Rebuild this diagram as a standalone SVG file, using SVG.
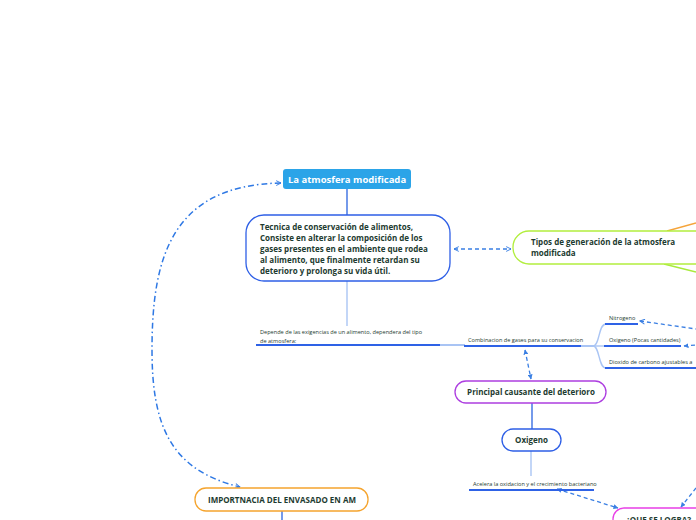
<svg xmlns="http://www.w3.org/2000/svg" width="696" height="520" viewBox="0 0 696 520">
<style>
.t{font-family:"Open Sans","Noto Sans","Liberation Sans",sans-serif;fill:#1d3b30}
.b{font-weight:bold;font-size:8px}
.s{font-size:5.6px}
.dash{fill:none;stroke:#3a7fe3;stroke-width:1.3;stroke-dasharray:4 3}
.dd{fill:none;stroke:#2e78e4;stroke-width:1.5;stroke-dasharray:6 3 1.5 3}
.ln{fill:none;stroke:#3a6fe2;stroke-width:1.4}
.lt{fill:none;stroke:#aac5f4;stroke-width:1.4}
.ul{fill:none;stroke:#2e62e6;stroke-width:2}
.ull{fill:none;stroke:#a9c4f4;stroke-width:2}
</style>
<defs>
<marker id="ah" viewBox="0 0 10 10" refX="9" refY="5" markerWidth="6" markerHeight="6" orient="auto-start-reverse" markerUnits="userSpaceOnUse">
<path d="M1,1 L9,5 L1,9" fill="none" stroke="#3a7fe3" stroke-width="1.6"/>
</marker>
<marker id="af" viewBox="0 0 10 10" refX="9" refY="5" markerWidth="5" markerHeight="5" orient="auto-start-reverse" markerUnits="userSpaceOnUse">
<path d="M0,0 L10,5 L0,10 z" fill="#3a7fe3"/>
</marker>
</defs>

<g id="connectors">
<path class="ln" d="M347,189 V215"/>
<path class="lt" d="M347,281 V326"/>
<path class="ull" d="M440,345 H465"/>
<path class="ull" d="M580,346 H594"/>
<path class="lt" d="M593,346 C600,346 598,324 606,324"/>
<path class="lt" d="M593,346 C600,346 598,368 606,368"/>
<path class="lt" d="M594,346 H606"/>
<path class="ln" d="M532,403 V429"/>
<path class="lt" d="M531,451 V476"/>
<path class="ln" d="M282,511 V520"/>
<path fill="none" stroke="#f5a43a" stroke-width="1.3" d="M667,231 L696,223"/>
<path fill="none" stroke="#a8ea3c" stroke-width="1.3" d="M664,264 L696,272"/>
<path class="dash" d="M454,249 H511" marker-start="url(#ah)" marker-end="url(#ah)"/>
<path class="dash" d="M525,350 L531,379" marker-start="url(#af)" marker-end="url(#af)"/>
<path class="dash" d="M640,321 L696,329" marker-start="url(#ah)"/>
<path class="dash" d="M684,346 L696,345" marker-start="url(#af)"/>
<path class="dash" d="M557,489 L618,508" marker-start="url(#af)" marker-end="url(#af)"/>
<path class="dash" d="M696,488 L681,507" marker-end="url(#af)"/>
<path class="dd" d="M281,183 C170,185 152,260 152,350 C152,425 170,470 240,487" marker-start="url(#ah)" marker-end="url(#ah)"/>
</g>

<g id="n-atmosfera">
<rect x="283" y="169" width="128" height="20" rx="3" fill="#2ba4e8"/>
<text x="347" y="183" text-anchor="middle" font-family="Open Sans, Noto Sans, Liberation Sans, sans-serif" font-weight="bold" font-size="9.5" fill="#fff">La atmosfera modificada</text>
</g>

<g id="n-tecnica">
<rect x="246" y="215" width="204" height="66" rx="18" fill="#fff" stroke="#2e5fe6" stroke-width="1.3"/>
<text class="t b"><tspan x="260" y="230">Tecnica de conservación de alimentos,</tspan><tspan x="260" y="241">Consiste en alterar la composición de los</tspan><tspan x="260" y="252">gases presentes en el ambiente que rodea</tspan><tspan x="260" y="263">al alimento, que  finalmente retardan su</tspan><tspan x="260" y="274">deterioro y prolonga su vida útil.</tspan></text>
</g>

<g id="n-tipos">
<rect x="513" y="231" width="200" height="33" rx="16" fill="#fff" stroke="#b2ee3e" stroke-width="1.3"/>
<text class="t b"><tspan x="531" y="245">Tipos de generación de la atmosfera</tspan><tspan x="531" y="256">modificada</tspan></text>
</g>

<g id="n-depende">
<text class="t s"><tspan x="260" y="334">Depende de las exigencias de un alimento, dependera del tipo</tspan><tspan x="260" y="343">de atmosfera:</tspan></text>
<path class="ul" d="M256,345 H440"/>
</g>

<g id="n-combinacion">
<text class="t s" x="468" y="342" font-size="6">Combinacion de gases para su conservacion</text>
<path class="ul" d="M464,346 H581"/>
</g>

<g id="n-nitrogeno">
<text class="t s" x="609" y="320">Nitrogeno</text>
<path class="ul" d="M605,324 H638"/>
</g>

<g id="n-oxigeno-pocas">
<text class="t s" x="609" y="342">Oxigeno (Pocas cantidades)</text>
<path class="ul" d="M604,346 H681"/>
</g>

<g id="n-dioxido">
<text class="t s" x="609" y="364">Dioxido de carbono ajustables a</text>
<path class="ul" d="M605,368 H696"/>
</g>

<g id="n-principal">
<rect x="455" y="381" width="151" height="22" rx="11" fill="#fff" stroke="#ad3ee0" stroke-width="1.3"/>
<text class="t b" x="531" y="395" text-anchor="middle">Principal causante del deterioro</text>
</g>

<g id="n-oxigeno">
<rect x="502" y="429" width="59" height="22" rx="11" fill="#fff" stroke="#2e5fe6" stroke-width="1.3"/>
<text class="t b" x="531.5" y="443" text-anchor="middle">Oxigeno</text>
</g>

<g id="n-acelera">
<text class="t s" x="473" y="486" font-size="5.9">Acelera la oxidacion y el crecimiento bacteriano</text>
<path class="ul" d="M469,490 H594"/>
</g>

<g id="n-logra">
<rect x="613" y="508" width="120" height="30" rx="11" fill="#fff" stroke="#e83fe6" stroke-width="1.3"/>
<text class="t b" x="626" y="523" font-size="9">¿QUE SE LOGRA?</text>
</g>

<g id="n-importancia">
<rect x="195" y="488" width="173" height="23" rx="11" fill="#fff" stroke="#f5a42e" stroke-width="1.3"/>
<text class="t b" x="282" y="503" text-anchor="middle">IMPORTNACIA DEL ENVASADO EN AM</text>
</g>
</svg>
